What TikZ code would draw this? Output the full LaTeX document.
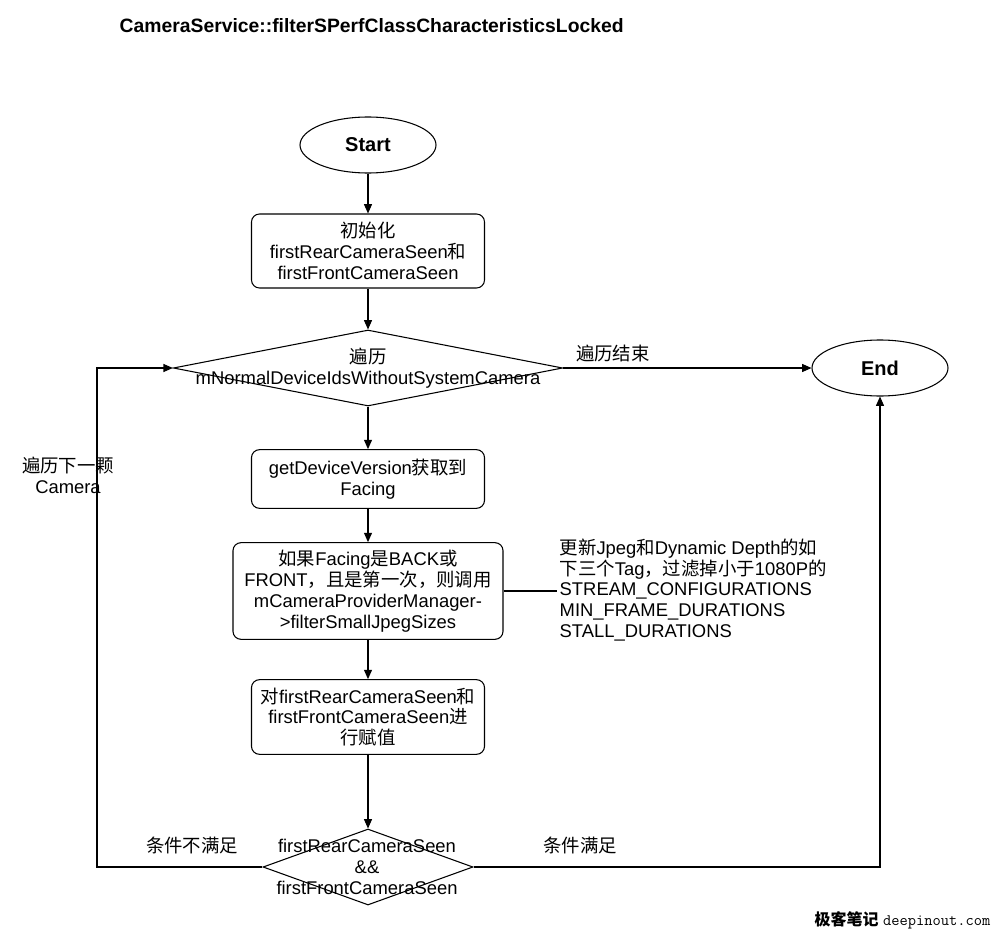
\documentclass[tikz,border=0pt]{standalone}
\usepackage{fontspec}
\setmainfont{Liberation Sans}
\newfontfamily\cjk{Noto Sans CJK SC}
\usetikzlibrary{shapes.geometric,arrows.meta}
\begin{document}
\begin{tikzpicture}[x=0.75pt,y=-0.75pt,
  every node/.style={font=\fontsize{13.8}{15.6}\selectfont},
  box/.style={draw,thick,rounded corners=6pt,minimum width=174.75pt,align=center,inner sep=1pt},
  ell/.style={draw,thick,ellipse,minimum width=102pt,minimum height=42pt,font=\fontsize{15}{17}\selectfont\bfseries},
  dia/.style={draw,thick,diamond,aspect=5.1,inner sep=0pt,align=center},
  arr/.style={thick,-{Triangle[length=7pt,width=6pt]}},
  lab/.style={align=center}]
\useasboundingbox (0,0) rectangle (997,931);
\node[anchor=west,font=\fontsize{14.5}{16}\selectfont\bfseries] (title) at (115,26) {CameraService::filterSPerfClassCharacteristicsLocked};
\node[ell] (start) at (368,145) {Start};
\node[box,minimum height=55.5pt] (b1) at (368,251) {{\cjk 初始化}\\firstRearCameraSeen{\cjk 和}\\firstFrontCameraSeen};
\node[dia,minimum width=292pt,minimum height=57pt] (d1) at (368,368) {};
\node[lab] (d1t) at (368,368) {{\cjk 遍历}\\mNormalDeviceIdsWithoutSystemCamera};
\node[ell] (end) at (880,368) {End};
\node[box,minimum height=44pt] (b2) at (368,479) {getDeviceVersion{\cjk 获取到}\\Facing};
\node[box,minimum width=202.5pt,minimum height=72.5pt] (b3) at (368,591) {{\cjk 如果}Facing{\cjk 是}BACK{\cjk 或}\\FRONT{\cjk ，且是第一次，则调用}\\mCameraProviderManager-\\>filterSmallJpegSizes};
\node[box,minimum height=56pt] (b4) at (368,717) {{\cjk 对}firstRearCameraSeen{\cjk 和}\\firstFrontCameraSeen{\cjk 进}\\{\cjk 行赋值}};
\node[dia,minimum width=157.5pt,minimum height=57pt,aspect=2.76] (d2) at (368,867) {};
\node[lab] (d2t) at (367,867) {firstRearCameraSeen\\\&\&\\firstFrontCameraSeen};
\node[anchor=north west,align=left] (note) at (555,534) {{\cjk 更新}Jpeg{\cjk 和}Dynamic Depth{\cjk 的如}\\{\cjk 下三个}Tag{\cjk ，过滤掉小于}1080P{\cjk 的}\\STREAM\_CONFIGURATIONS\\MIN\_FRAME\_DURATIONS\\STALL\_DURATIONS};
\coordinate (nl) at (557,591);
\draw[thick] (b3.east) -- (nl);
\draw[arr] (start) -- (b1);
\draw[arr] (b1) -- (d1);
\draw[arr] (d1) -- (b2);
\draw[arr] (b2) -- (b3);
\draw[arr] (b3) -- (b4);
\draw[arr] (b4) -- (d2);
\draw[arr] (d1.east) -- (end.west) node[pos=0.2,above=1pt] {\cjk 遍历结束};
\coordinate (lc1) at (97,867); \coordinate (lc2) at (97,368);
\draw[arr] (d2.west) -- (lc1) -- (lc2) -- (d1.west);
\node[lab] (ll) at (68,475) {{\cjk 遍历下一颗}\\Camera};
\node (l2) at (192,845) {\cjk 条件不满足};
\coordinate (rc) at (880,867);
\draw[arr] (d2.east) -- (rc) -- (end.south);
\node (l3) at (580,845) {\cjk 条件满足};
\node[anchor=east,font=\fontsize{12}{13}\selectfont] (wm) at (995,920) {{\cjk\bfseries 极客笔记} \texttt{deepinout.com}};
\end{tikzpicture}
\end{document}
